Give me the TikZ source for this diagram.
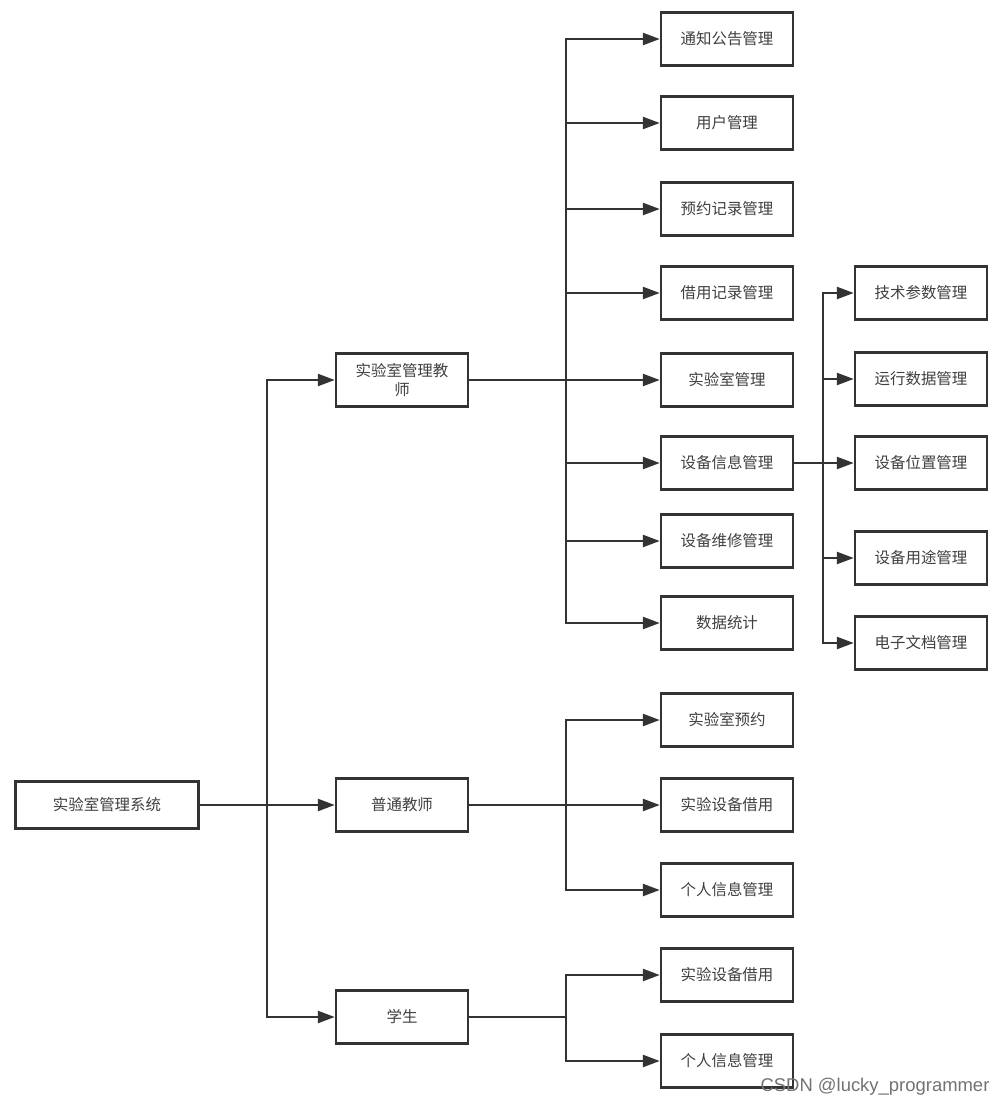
\documentclass[tikz,border=0pt]{standalone}
\usepackage{fontspec}
\newfontfamily\cjk{Noto Sans CJK SC}
\newfontfamily\markfont{Liberation Sans}
\usetikzlibrary{arrows.meta}
\begin{document}
\begin{tikzpicture}[x=0.02cm,y=-0.02cm,
    box/.style={draw=black!80,line width=1.4pt,fill=white,minimum width=2.64cm,
      minimum height=1.06cm,inner sep=1pt,align=center,text=black!75,
      font=\cjk\fontsize{8.8}{11}\selectfont},
    link/.style={draw=black!80,line width=1.4pt},
    arrow/.style={link,-{Triangle[length=0.34cm,width=0.24cm]}}]
  \useasboundingbox[fill=white] (0,0) rectangle (1006,1106);
  \path
    (107,805) node[box,minimum width=3.66cm,minimum height=0.94cm] (sys){实验室管理系统}
    (402,380) node[box] (admin){实验室管理教\\师}
    (402,805) node[box] (teacher){普通教师}
    (402,1017) node[box] (student){学生};
  \path
    (727,39) node[box] (notice){通知公告管理}
    (727,123) node[box] (user){用户管理}
    (727,209) node[box] (booklog){预约记录管理}
    (727,293) node[box] (lendlog){借用记录管理}
    (727,380) node[box] (lab){实验室管理}
    (727,463) node[box] (devinfo){设备信息管理}
    (727,541) node[box] (repair){设备维修管理}
    (727,623) node[box] (stats){数据统计};
  \path
    (921,293) node[box] (param){技术参数管理}
    (921,379) node[box] (rundata){运行数据管理}
    (921,463) node[box] (place){设备位置管理}
    (921,558) node[box] (usage){设备用途管理}
    (921,643) node[box] (docs){电子文档管理};
  \path
    (727,720) node[box] (tbook){实验室预约}
    (727,805) node[box] (tlend){实验设备借用}
    (727,890) node[box] (tinfo){个人信息管理}
    (727,975) node[box] (slend){实验设备借用}
    (727,1061) node[box] (sinfo){个人信息管理};
  \coordinate (j0) at (267,805);
  \coordinate (j1) at (566,380);
  \coordinate (j2) at (823,463);
  \coordinate (j3) at (566,805);
  \coordinate (j4) at (566,1017);
  \begin{scope}[arrow]
    \draw[-] (sys.east) -- (j0);
    \draw (j0) |- (admin.west);
    \draw (j0) -- (teacher.west);
    \draw (j0) |- (student.west);
    \draw[-] (admin.east) -- (j1);
    \draw (j1) |- (notice.west);
    \draw (j1) |- (user.west);
    \draw (j1) |- (booklog.west);
    \draw (j1) |- (lendlog.west);
    \draw (j1) -- (lab.west);
    \draw (j1) |- (devinfo.west);
    \draw (j1) |- (repair.west);
    \draw (j1) |- (stats.west);
    \draw[-] (devinfo.east) -- (j2);
    \draw (j2) |- (param.west);
    \draw (j2) |- (rundata.west);
    \draw (j2) -- (place.west);
    \draw (j2) |- (usage.west);
    \draw (j2) |- (docs.west);
    \draw[-] (teacher.east) -- (j3);
    \draw (j3) |- (tbook.west);
    \draw (j3) -- (tlend.west);
    \draw (j3) |- (tinfo.west);
    \draw[-] (student.east) -- (j4);
    \draw (j4) |- (slend.west);
    \draw (j4) |- (sinfo.west);
  \end{scope}
  \node[text=black!55,font=\markfont\fontsize{10.5}{13}\selectfont] (mark) at (875,1087) {CSDN @lucky\_programmer};
\end{tikzpicture}
\end{document}
